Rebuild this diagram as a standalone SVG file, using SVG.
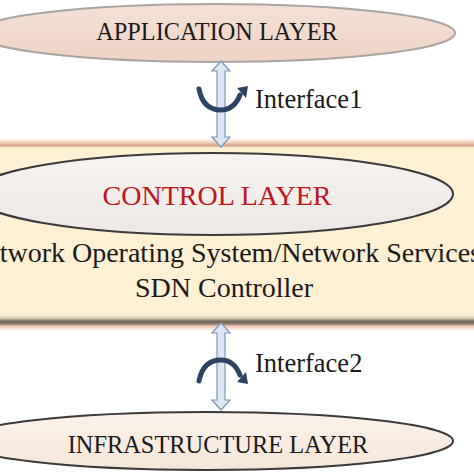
<svg xmlns="http://www.w3.org/2000/svg" width="474" height="474" viewBox="0 0 474 474">
<defs>
<style>
.t{font-family:"Liberation Serif","Times New Roman",serif;fill:#1a1a1a}
.arr{fill:#dde7f3;stroke:#8097b4;stroke-width:1.2}
.curl{fill:none;stroke:#2c4462;stroke-width:5;stroke-linecap:round}
.head{fill:#2c4462}
</style>
<linearGradient id="gApp" x1="0" y1="0" x2="0" y2="1">
<stop offset="0" stop-color="#f5e0d6"/><stop offset="1" stop-color="#efd3c4"/>
</linearGradient>
<linearGradient id="gCtl" x1="0" y1="0" x2="0" y2="1">
<stop offset="0" stop-color="#f6f3f1"/><stop offset="1" stop-color="#ede8e5"/>
</linearGradient>
<linearGradient id="gInf" x1="0" y1="0" x2="0" y2="1">
<stop offset="0" stop-color="#fbf2ea"/><stop offset="1" stop-color="#f5e6d8"/>
</linearGradient>
<linearGradient id="gTop" x1="0" y1="0" x2="0" y2="1">
<stop offset="0" stop-color="#ffffff"/><stop offset="0.4" stop-color="#f8d6c2"/><stop offset="0.75" stop-color="#d8a68a"/><stop offset="1" stop-color="#fdf0d3"/>
</linearGradient>
<linearGradient id="gBot" x1="0" y1="0" x2="0" y2="1">
<stop offset="0" stop-color="#fdf0d3"/><stop offset="0.2" stop-color="#d9cdb0"/><stop offset="0.4" stop-color="#6f6657"/><stop offset="0.55" stop-color="#8b7a6c"/><stop offset="0.7" stop-color="#f2c5b0"/><stop offset="1" stop-color="#ffffff"/>
</linearGradient>
<g id="curl">
<path class="curl" d="M199,89 Q203,110 221,110 Q234,110 240,95"/>
<polygon class="head" points="248,86 237,88 246,98"/>
</g>
</defs>
<rect width="474" height="474" fill="#ffffff"/>

<g id="control-band">
<rect x="0" y="138" width="474" height="10" fill="url(#gTop)"/>
<rect x="0" y="148" width="474" height="167" fill="#fdf0d3"/>
<rect x="0" y="315" width="474" height="16" fill="url(#gBot)"/>
</g>

<g id="application-layer">
<ellipse cx="215" cy="33" rx="240" ry="29" fill="url(#gApp)" stroke="#a9a5a2" stroke-width="2"/>
<text class="t" x="217" y="40" font-size="24.3" text-anchor="middle">APPLICATION LAYER</text>
</g>

<g id="control-layer">
<ellipse cx="213" cy="194" rx="240" ry="41" fill="url(#gCtl)" stroke="#3a3a3a" stroke-width="2"/>
<text class="t" x="217" y="205" font-size="28" text-anchor="middle" style="fill:#c0161c">CONTROL LAYER</text>
<text class="t" x="224" y="262" font-size="28" text-anchor="middle">Network Operating System/Network Services</text>
<text class="t" x="224" y="297" font-size="28" text-anchor="middle">SDN Controller</text>
</g>

<g id="infrastructure-layer">
<ellipse cx="206" cy="441" rx="247" ry="29" fill="url(#gInf)" stroke="#3a3a3a" stroke-width="2"/>
<text class="t" x="218" y="453" font-size="24.4" text-anchor="middle">INFRASTRUCTURE LAYER</text>
</g>

<g id="connectors">
<path class="arr" d="M221,61 L230,71 L225,71 L225,137 L230,137 L221,147 L212,137 L217,137 L217,71 L212,71 Z"/>
<use href="#curl"/>
<text class="t" x="255" y="108" font-size="26.5">Interface1</text>
<path class="arr" d="M221,323 L230,333 L225,333 L225,400 L230,400 L221,410 L212,400 L217,400 L217,333 L212,333 Z"/>
<use href="#curl" transform="translate(0,470) scale(1,-1)"/>
<text class="t" x="255" y="372" font-size="26.5">Interface2</text>
</g>
</svg>
